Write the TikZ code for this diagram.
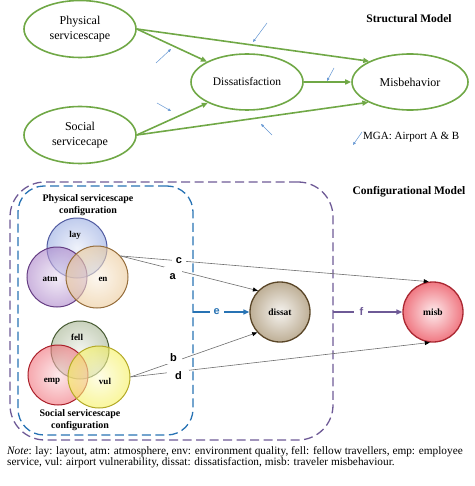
\documentclass[tikz,border=0pt]{standalone}
\usepackage{fontspec}
\setmainfont{Liberation Serif}
\newfontfamily\arialfont{Liberation Sans}
\usetikzlibrary{shapes.geometric,arrows.meta}
\definecolor{sgreen}{RGB}{112,168,70}
\definecolor{errblue}{RGB}{100,150,210}
\definecolor{boxblue}{RGB}{40,115,180}
\definecolor{boxpurple}{RGB}{110,90,150}
\definecolor{gline}{RGB}{110,110,110}
\definecolor{laycol}{RGB}{150,170,225}\definecolor{layedge}{RGB}{80,90,160}
\definecolor{atmcol}{RGB}{170,130,200}\definecolor{atmedge}{RGB}{100,60,130}
\definecolor{encol}{RGB}{235,200,150}\definecolor{enedge}{RGB}{150,110,60}
\definecolor{fellcol}{RGB}{165,180,145}\definecolor{felledge}{RGB}{70,90,50}
\definecolor{empcol}{RGB}{240,110,120}\definecolor{empedge}{RGB}{170,30,40}
\definecolor{vulcol}{RGB}{245,240,90}\definecolor{vuledge}{RGB}{180,170,40}
\definecolor{dissatcol}{RGB}{190,175,150}\definecolor{dissatedge}{RGB}{90,70,40}
\definecolor{misbcol}{RGB}{240,120,130}\definecolor{misbedge}{RGB}{170,40,50}
\tikzset{
  smell/.style={ellipse, draw=sgreen, line width=1.6pt, minimum width=112pt, minimum height=57pt, inner sep=0pt, align=center, font=\fontsize{12}{14.5}\selectfont},
  garrow/.style={draw=sgreen, line width=1.6pt, -{Triangle[length=6pt,width=5pt]}},
  errarrow/.style={draw=errblue, line width=0.5pt, -{Triangle[length=3pt,width=2.5pt]}},
  venn/.style={circle, minimum size=60pt, inner sep=0pt, line width=1pt, shade, fill opacity=0.6, text opacity=1},
  vlab/.style={font=\bfseries\fontsize{9}{10}\selectfont, inner sep=0pt},
  ctitle/.style={font=\bfseries\fontsize{10}{12}\selectfont, align=center, inner sep=0pt},
  bigc/.style={circle, minimum size=60pt, inner sep=0pt, line width=1.3pt, shade, font=\bfseries\fontsize{9.5}{11}\selectfont},
  gconn/.style={draw=gline, line width=0.6pt, -{Triangle[length=5pt,width=4pt,color=black]}},
  lbl/.style={font=\arialfont\bfseries\fontsize{11}{13}\selectfont, fill=white, inner sep=1pt, minimum width=14pt, minimum height=12pt},
  dbox/.style={draw, line width=1.3pt, dash pattern=on 9pt off 4.5pt, inner sep=0pt, outer sep=0pt},
}
\begin{document}
\begin{tikzpicture}[x=1pt,y=-1pt]
\useasboundingbox (0,0) rectangle (474,486);

% ---------- Structural model ----------
\node[smell] (phys) at (80,29) {Physical\\servicescape};
\node[smell] (soc) at (80,135) {Social\\servicecape};
\node[smell, minimum width=112pt, minimum height=56pt, font=\fontsize{11.5}{13}\selectfont] (dis) at (247,82) {Dissatisfaction};
\node[smell, minimum width=116pt, minimum height=56pt] (mis) at (410,82) {Misbehavior};

\draw[garrow] (phys.east) -- (mis.153);
\draw[garrow] (phys.east) -- (dis.153);
\draw[garrow] (soc.east) -- (dis.208);
\draw[garrow] (soc.east) -- (mis.206);
\draw[garrow] (dis.east) -- (mis.west);

\coordinate (e1a) at (156,63);  \coordinate (e1b) at (171,49);
\coordinate (e2a) at (157,103); \coordinate (e2b) at (171,111);
\coordinate (e3a) at (267,23);  \coordinate (e3b) at (253,42);
\coordinate (e4a) at (334,68);  \coordinate (e4b) at (327,81);
\coordinate (e5a) at (272,135); \coordinate (e5b) at (261,124);
\coordinate (e6a) at (362,132); \coordinate (e6b) at (353,145);
\draw[errarrow] (e1a) -- (e1b);
\draw[errarrow] (e2a) -- (e2b);
\draw[errarrow] (e3a) -- (e3b);
\draw[errarrow] (e4a) -- (e4b);
\draw[errarrow] (e5a) -- (e5b);
\draw[errarrow] (e6a) -- (e6b);

\node[font=\bfseries\fontsize{11.5}{13}\selectfont, inner sep=0pt] (stitle) at (409,19) {Structural Model};
\node[font=\fontsize{11}{13}\selectfont, anchor=west, inner sep=0pt] (mga) at (363,137) {MGA: Airport A \& B};

% ---------- Configurational model ----------
\node[dbox, draw=boxpurple, rounded corners=35pt, minimum width=323pt, minimum height=258pt] (pbox) at (171.5,311) {};
\node[dbox, draw=boxblue, rounded corners=26pt, minimum width=175pt, minimum height=249pt] (bbox) at (105.5,310.5) {};

\node[font=\bfseries\fontsize{11.5}{13}\selectfont, inner sep=0pt] (ctitle) at (409,192) {Configurational Model};

\node[ctitle] (physconf) at (88,205) {Physical servicescape\\configuration};
\node[venn, draw=layedge, inner color=laycol!25!white, outer color=laycol] (lay) at (77,248) {};
\node[venn, draw=atmedge, inner color=atmcol!25!white, outer color=atmcol] (atm) at (57,277) {};
\node[venn, draw=enedge, inner color=encol!25!white, outer color=encol, minimum size=62pt] (en) at (97,277) {};
\node[vlab] (laylab) at (75,235) {lay};
\node[vlab] (atmlab) at (50,279) {atm};
\node[vlab] (enlab) at (103,279) {en};

\node[venn, draw=felledge, inner color=fellcol!25!white, outer color=fellcol, minimum size=58pt] (fell) at (80,350) {};
\node[venn, draw=empedge, inner color=empcol!25!white, outer color=empcol] (emp) at (58,375) {};
\node[venn, draw=vuledge, inner color=vulcol!25!white, outer color=vulcol, minimum size=62pt] (vul) at (99,377) {};
\node[vlab] (felllab) at (77,337) {fell};
\node[vlab] (emplab) at (52,381) {emp};
\node[vlab] (vullab) at (105,381) {vul};
\node[ctitle] (socconf) at (80,420) {Social servicescape\\configuration};

\node[bigc, draw=dissatedge, inner color=dissatcol!15!white, outer color=dissatcol] (dissat) at (280,312) {dissat};
\node[bigc, draw=misbedge, inner color=misbcol!15!white, outer color=misbcol] (misb) at (433,312) {misb};

\draw[gconn] (en.42) -- node[lbl, pos=0.19]{c} (misb.98);
\draw[gconn] (en.42) -- node[lbl, pos=0.38, yshift=-7pt, minimum height=18pt, minimum width=18pt]{a} (dissat.136);
\draw[gconn] (vul.0) -- node[lbl, pos=0.34, yshift=4pt, minimum width=16pt]{b} (dissat.222);
\draw[gconn] (vul.0) -- node[lbl, pos=0.16, yshift=-4.5pt, minimum width=22pt]{d} (misb.264);

\draw[draw=boxblue, line width=1.4pt, -{Triangle[length=6pt,width=5pt]}] (bbox.east |- dissat.west) -- node[lbl, text=boxblue, pos=0.42]{e} (dissat.west);
\draw[draw=boxpurple, line width=1.4pt, -{Triangle[length=6pt,width=5pt]}] (pbox.east |- misb.west) -- node[lbl, text=boxpurple, pos=0.41]{f} (misb.west);

% ---------- Note ----------
\node[anchor=north west, align=left, inner sep=0pt, font=\fontsize{11.3}{11.5}\selectfont] (note) at (7,446)
{\textit{Note}: lay: layout, atm: atmosphere, env: environment quality, fell: fellow travellers, emp: employee\\
service, vul: airport vulnerability, dissat: dissatisfaction, misb: traveler misbehaviour.};
\end{tikzpicture}
\end{document}
